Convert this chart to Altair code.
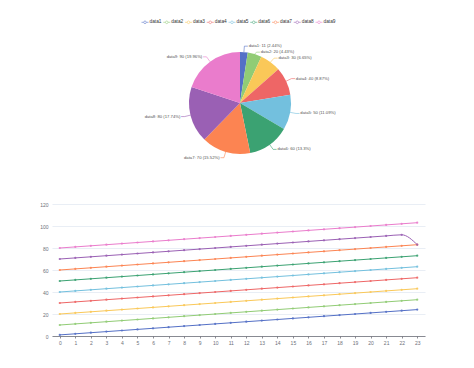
import math
import altair as alt
import pandas as pd

# ---------------- data ----------------
series = ["data1", "data2", "data3", "data4", "data5", "data6", "data7", "data8", "data9"]
colors = ["#5470c6", "#91cc75", "#fac858", "#ee6666", "#73c0de",
          "#3ba272", "#fc8452", "#9a60b4", "#ea7ccc"]
pie_values = [11, 20, 30, 40, 50, 60, 70, 80, 90]

x_labels = [str(i) for i in range(24)]
data1 = [1, 2, 3, 4, 5, 6, 7, 8, 9, 10, 11, 12, 13, 14, 15, 16, 17, 18, 19, 20, 21, 22, 23, 24]
data2 = [10, 11, 12, 13, 14, 15, 16, 17, 18, 19, 20, 21, 22, 23, 24, 25, 26, 27, 28, 29, 30, 31, 32, 33]
data3 = [20, 21, 22, 23, 24, 25, 26, 27, 28, 29, 30, 31, 32, 33, 34, 35, 36, 37, 38, 39, 40, 41, 42, 43]
data4 = [30, 31, 32, 33, 34, 35, 36, 37, 38, 39, 40, 41, 42, 43, 44, 45, 46, 47, 48, 49, 50, 51, 52, 53]
data5 = [40, 41, 42, 43, 44, 45, 46, 47, 48, 49, 50, 51, 52, 53, 54, 55, 56, 57, 58, 59, 60, 61, 62, 63]
data6 = [50, 51, 52, 53, 54, 55, 56, 57, 58, 59, 60, 61, 62, 63, 64, 65, 66, 67, 68, 69, 70, 71, 72, 73]
data7 = [60, 61, 62, 63, 64, 65, 66, 67, 68, 69, 70, 71, 72, 73, 74, 75, 76, 77, 78, 79, 80, 81, 82, 83]
data8 = [70, 71, 72, 73, 74, 75, 76, 77, 78, 79, 80, 81, 82, 83, 84, 85, 86, 87, 88, 89, 90, 91, 92, 83]
data9 = [80, 81, 82, 83, 84, 85, 86, 87, 88, 89, 90, 91, 92, 93, 94, 95, 96, 97, 98, 99, 100, 101, 102, 103]
line_values = [data1, data2, data3, data4, data5, data6, data7, data8, data9]
y_ticks = [0, 20, 40, 60, 80, 100, 120]

FONT = "Liberation Sans"
color_scale = alt.Scale(domain=series, range=colors)

# ---------------- pie geometry (ECharts-like outside labels) ----------------
CX, CY, R = 188, 95, 51
LEN1, LEN2, GAP = 6, 3.5, 6.0
total = sum(pie_values)
labels = [f"{s}: {v} ({round(v / total * 100, 2):g}%)" for s, v in zip(series, pie_values)]

lab_rows, line_rows = [], []
cum = 0
info = []
for s, v, lab in zip(series, pie_values, labels):
    a = (cum + v / 2) / total * 2 * math.pi
    cum += v
    right = math.sin(a) >= 0
    r1 = R + LEN1
    info.append({"series": s, "label": lab, "a": a, "right": right,
                 "x1": CX + r1 * math.sin(a), "y1": CY - r1 * math.cos(a)})
# avoid vertical overlap on each side
for side in (True, False):
    items = sorted([d for d in info if d["right"] == side], key=lambda d: d["y1"])
    for i in range(1, len(items)):
        if items[i]["y1"] < items[i - 1]["y1"] + GAP:
            items[i]["y1"] = items[i - 1]["y1"] + GAP
for d in info:
    a = d["a"]
    sgn = 1 if d["right"] else -1
    ax, ay = CX + R * math.sin(a), CY - R * math.cos(a)
    x2 = d["x1"] + sgn * LEN2
    line_rows += [
        {"series": d["series"], "k": 0, "px": ax, "py": ay},
        {"series": d["series"], "k": 1, "px": d["x1"], "py": d["y1"]},
        {"series": d["series"], "k": 2, "px": x2, "py": d["y1"]},
    ]
    lab_rows.append({"series": d["series"], "label": d["label"],
                     "lx": x2 + sgn * 0.8, "ly": d["y1"], "right": d["right"]})

pie_df = pd.DataFrame({"series": series, "value": pie_values, "idx": list(range(9))})
lab_df = pd.DataFrame(lab_rows)
ll_df = pd.DataFrame(line_rows)

arc = alt.Chart(pie_df).mark_arc(outerRadius=R).encode(
    theta=alt.Theta("value:Q", stack=True), order=alt.Order("idx:Q"),
    color=alt.Color("series:N", scale=color_scale, legend=None),
    x=alt.value(CX), y=alt.value(CY),
)
lab_line = alt.Chart(ll_df).mark_line(strokeWidth=0.6).encode(
    x=alt.X("px:Q", scale=None, axis=None), y=alt.Y("py:Q", scale=None, axis=None),
    order="k:Q", detail="series:N",
    color=alt.Color("series:N", scale=color_scale, legend=None))
txtR = alt.Chart(lab_df).transform_filter("datum.right").mark_text(
    align="left", baseline="middle", fontSize=4.2, font=FONT, color="#555555").encode(
    x=alt.X("lx:Q", scale=None, axis=None), y=alt.Y("ly:Q", scale=None, axis=None), text="label:N")
txtL = alt.Chart(lab_df).transform_filter("!datum.right").mark_text(
    align="right", baseline="middle", fontSize=4.2, font=FONT, color="#555555").encode(
    x=alt.X("lx:Q", scale=None, axis=None), y=alt.Y("ly:Q", scale=None, axis=None), text="label:N")

ICON = "M-1,0L-0.38,0M0.38,0L1,0M-0.38,0A0.38,0.38,0,1,1,0.38,0A0.38,0.38,0,1,1,-0.38,0"
leg_df = pd.DataFrame({"series": series})
leg_x = alt.X("series:N", sort=series, axis=None,
              scale=alt.Scale(domain=series, range=[93, 267], padding=0))
leg_icon = alt.Chart(leg_df).mark_point(shape=ICON, filled=False, size=49, strokeWidth=0.8).encode(
    x=leg_x, y=alt.value(14.3),
    color=alt.Color("series:N", scale=color_scale, legend=None))
leg_txt = alt.Chart(leg_df).mark_text(align="left", baseline="middle", dx=4.5,
                                       fontSize=4.8, font=FONT, color="#333333").encode(
    x=leg_x, y=alt.value(14.3), text="series:N")

legend = alt.layer(leg_icon, leg_txt)
labels_layer = alt.layer(lab_line, txtR, txtL)
top = (
    alt.layer(arc, labels_layer, legend)
    .resolve_scale(x="independent", y="independent")
    .properties(width=414, height=194)
)

# ---------------- line chart (bottom panel) ----------------
rows = []
for s, vals in zip(series, line_values):
    for xl, v in zip(x_labels, vals):
        rows.append({"series": s, "x": xl, "value": v})
line_df = pd.DataFrame(rows)

x_enc = alt.X("x:O", sort=x_labels, title=None,
              axis=alt.Axis(labelAngle=0, labelFontSize=5, labelFont=FONT, labelColor="#6e7079",
                            domainColor="#6e7079", domainWidth=0.8, tickColor="#6e7079",
                            tickSize=2, tickWidth=0.8, labelPadding=2, grid=False))
y_enc = alt.Y("value:Q", title=None, scale=alt.Scale(domain=[0, 120]),
              axis=alt.Axis(values=y_ticks, labelFontSize=5, labelFont=FONT, labelColor="#6e7079",
                            domain=False, ticks=False, grid=True, gridColor="#e0e6f1",
                            gridWidth=0.7, labelPadding=4, minExtent=44))
c_enc = alt.Color("series:N", scale=color_scale, legend=None)

lines = alt.Chart(line_df).mark_line(interpolate="monotone", strokeWidth=1).encode(
    x=x_enc, y=y_enc, color=c_enc, detail="series:N")
pts = alt.Chart(line_df).mark_point(filled=True, size=5, opacity=0.9).encode(
    x=x_enc, y=y_enc, color=c_enc)

bottom = alt.layer(lines, pts).properties(width=373, height=132)

chart = (
    alt.vconcat(top, bottom, spacing=0, padding=0, background="white")
    .configure_view(stroke=None, strokeWidth=0)
)

chart.save("out.html", embed_options={"renderer": "svg", "actions": False})
